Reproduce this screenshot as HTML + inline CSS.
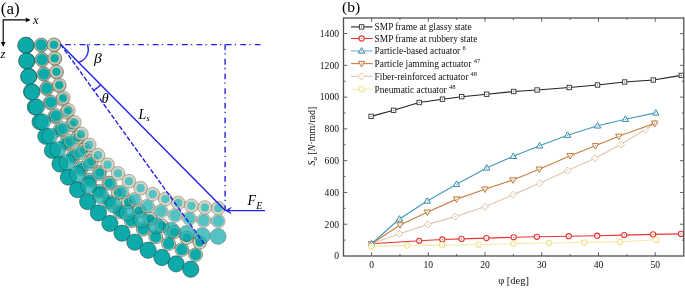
<!DOCTYPE html>
<html><head><meta charset="utf-8"><style>
html,body{margin:0;padding:0;background:#fff;}
body{width:685px;height:288px;overflow:hidden;}
svg{display:block;}
.lg text{font-family:'Liberation Serif',serif;}
</style></head><body>
<svg width="685" height="288" viewBox="0 0 685 288">
<defs><clipPath id="plotclip"><rect x="343.5" y="18.0" width="342.3" height="238"/></clipPath></defs>
<rect width="685" height="288" fill="#fff"/>

<g id="arm-solid"><path d="M41.51,45.18L54.31,44.93 M42.26,59.74L55.02,58.67 M43.96,74.23L56.62,72.33 M46.58,88.58L59.09,85.87 M50.13,102.72L62.44,99.21 M54.59,116.61L66.65,112.31 M59.94,130.18L71.69,125.11 M66.15,143.38L77.55,137.55 M73.21,156.15L84.2,149.6 M81.07,168.43L91.62,161.18 M89.72,180.18L99.78,172.26 M99.1,191.34L108.63,182.79 M109.19,201.88L118.14,192.73 M119.94,211.73L128.28,202.03 M131.31,220.88L139,210.65 M143.24,229.27L150.26,218.56 M155.69,236.86L162,225.73 M168.61,243.64L174.18,232.12 M181.93,249.57L186.75,237.71 M195.62,254.62L199.66,242.47 M41.51,45.18L42.26,59.74L43.96,74.23L46.58,88.58L50.13,102.72L54.59,116.61L59.94,130.18L66.15,143.38L73.21,156.15L81.07,168.43L89.72,180.18L99.1,191.34L109.19,201.88L119.94,211.73L131.31,220.88L143.24,229.27L155.69,236.86L168.61,243.64L181.93,249.57L195.62,254.62 M54.31,44.93L55.02,58.67L56.62,72.33L59.09,85.87L62.44,99.21L66.65,112.31L71.69,125.11L77.55,137.55L84.2,149.6L91.62,161.18L99.78,172.26L108.63,182.79L118.14,192.73L128.28,202.03L139,210.65L150.26,218.56L162,225.73L174.18,232.12L186.75,237.71L199.66,242.47" fill="none" stroke="#d4cfb6" stroke-width="6.2"/>
<circle cx="26.11" cy="45.47" r="8.15" fill="#0cabaa" stroke="#262626" stroke-width="0.45"/>
<circle cx="41.51" cy="45.18" r="6.9" fill="#d4cfb6" stroke="#262626" stroke-width="0.45"/>
<circle cx="41.51" cy="45.18" r="5.8" fill="#0cabaa"/>
<circle cx="54.31" cy="44.93" r="6.7" fill="#d4cfb6" stroke="#262626" stroke-width="0.45"/>
<circle cx="54.31" cy="44.93" r="4.4" fill="#0cabaa"/>
<circle cx="26.92" cy="61.03" r="8.15" fill="#0cabaa" stroke="#262626" stroke-width="0.45"/>
<circle cx="42.26" cy="59.74" r="6.9" fill="#d4cfb6" stroke="#262626" stroke-width="0.45"/>
<circle cx="42.26" cy="59.74" r="5.8" fill="#0cabaa"/>
<circle cx="55.02" cy="58.67" r="6.7" fill="#d4cfb6" stroke="#262626" stroke-width="0.45"/>
<circle cx="55.02" cy="58.67" r="4.4" fill="#0cabaa"/>
<circle cx="28.73" cy="76.51" r="8.15" fill="#0cabaa" stroke="#262626" stroke-width="0.45"/>
<circle cx="43.96" cy="74.23" r="6.9" fill="#d4cfb6" stroke="#262626" stroke-width="0.45"/>
<circle cx="43.96" cy="74.23" r="5.8" fill="#0cabaa"/>
<circle cx="56.62" cy="72.33" r="6.7" fill="#d4cfb6" stroke="#262626" stroke-width="0.45"/>
<circle cx="56.62" cy="72.33" r="4.4" fill="#0cabaa"/>
<circle cx="31.53" cy="91.84" r="8.15" fill="#0cabaa" stroke="#262626" stroke-width="0.45"/>
<circle cx="46.58" cy="88.58" r="6.9" fill="#d4cfb6" stroke="#262626" stroke-width="0.45"/>
<circle cx="46.58" cy="88.58" r="5.8" fill="#0cabaa"/>
<circle cx="59.09" cy="85.87" r="6.7" fill="#d4cfb6" stroke="#262626" stroke-width="0.45"/>
<circle cx="59.09" cy="85.87" r="4.4" fill="#0cabaa"/>
<circle cx="35.32" cy="106.95" r="8.15" fill="#0cabaa" stroke="#262626" stroke-width="0.45"/>
<circle cx="50.13" cy="102.72" r="6.9" fill="#d4cfb6" stroke="#262626" stroke-width="0.45"/>
<circle cx="50.13" cy="102.72" r="5.8" fill="#0cabaa"/>
<circle cx="62.44" cy="99.21" r="6.7" fill="#d4cfb6" stroke="#262626" stroke-width="0.45"/>
<circle cx="62.44" cy="99.21" r="4.4" fill="#0cabaa"/>
<circle cx="40.09" cy="121.79" r="8.15" fill="#0cabaa" stroke="#262626" stroke-width="0.45"/>
<circle cx="54.59" cy="116.61" r="6.9" fill="#d4cfb6" stroke="#262626" stroke-width="0.45"/>
<circle cx="54.59" cy="116.61" r="5.8" fill="#0cabaa"/>
<circle cx="66.65" cy="112.31" r="6.7" fill="#d4cfb6" stroke="#262626" stroke-width="0.45"/>
<circle cx="66.65" cy="112.31" r="4.4" fill="#0cabaa"/>
<circle cx="45.8" cy="136.29" r="8.15" fill="#0cabaa" stroke="#262626" stroke-width="0.45"/>
<circle cx="59.94" cy="130.18" r="6.9" fill="#d4cfb6" stroke="#262626" stroke-width="0.45"/>
<circle cx="59.94" cy="130.18" r="5.8" fill="#0cabaa"/>
<circle cx="71.69" cy="125.11" r="6.7" fill="#d4cfb6" stroke="#262626" stroke-width="0.45"/>
<circle cx="71.69" cy="125.11" r="4.4" fill="#0cabaa"/>
<circle cx="52.44" cy="150.39" r="8.15" fill="#0cabaa" stroke="#262626" stroke-width="0.45"/>
<circle cx="66.15" cy="143.38" r="6.9" fill="#d4cfb6" stroke="#262626" stroke-width="0.45"/>
<circle cx="66.15" cy="143.38" r="5.8" fill="#0cabaa"/>
<circle cx="77.55" cy="137.55" r="6.7" fill="#d4cfb6" stroke="#262626" stroke-width="0.45"/>
<circle cx="77.55" cy="137.55" r="4.4" fill="#0cabaa"/>
<circle cx="59.98" cy="164.03" r="8.15" fill="#0cabaa" stroke="#262626" stroke-width="0.45"/>
<circle cx="73.21" cy="156.15" r="6.9" fill="#d4cfb6" stroke="#262626" stroke-width="0.45"/>
<circle cx="73.21" cy="156.15" r="5.8" fill="#0cabaa"/>
<circle cx="84.2" cy="149.6" r="6.7" fill="#d4cfb6" stroke="#262626" stroke-width="0.45"/>
<circle cx="84.2" cy="149.6" r="4.4" fill="#0cabaa"/>
<circle cx="68.38" cy="177.15" r="8.15" fill="#0cabaa" stroke="#262626" stroke-width="0.45"/>
<circle cx="81.07" cy="168.43" r="6.9" fill="#d4cfb6" stroke="#262626" stroke-width="0.45"/>
<circle cx="81.07" cy="168.43" r="5.8" fill="#0cabaa"/>
<circle cx="91.62" cy="161.18" r="6.7" fill="#d4cfb6" stroke="#262626" stroke-width="0.45"/>
<circle cx="91.62" cy="161.18" r="4.4" fill="#0cabaa"/>
<circle cx="77.61" cy="189.7" r="8.15" fill="#0cabaa" stroke="#262626" stroke-width="0.45"/>
<circle cx="89.72" cy="180.18" r="6.9" fill="#d4cfb6" stroke="#262626" stroke-width="0.45"/>
<circle cx="89.72" cy="180.18" r="5.8" fill="#0cabaa"/>
<circle cx="99.78" cy="172.26" r="6.7" fill="#d4cfb6" stroke="#262626" stroke-width="0.45"/>
<circle cx="99.78" cy="172.26" r="4.4" fill="#0cabaa"/>
<circle cx="87.64" cy="201.63" r="8.15" fill="#0cabaa" stroke="#262626" stroke-width="0.45"/>
<circle cx="99.1" cy="191.34" r="6.9" fill="#d4cfb6" stroke="#262626" stroke-width="0.45"/>
<circle cx="99.1" cy="191.34" r="5.8" fill="#0cabaa"/>
<circle cx="108.63" cy="182.79" r="6.7" fill="#d4cfb6" stroke="#262626" stroke-width="0.45"/>
<circle cx="108.63" cy="182.79" r="4.4" fill="#0cabaa"/>
<circle cx="98.42" cy="212.88" r="8.15" fill="#0cabaa" stroke="#262626" stroke-width="0.45"/>
<circle cx="109.19" cy="201.88" r="6.9" fill="#d4cfb6" stroke="#262626" stroke-width="0.45"/>
<circle cx="109.19" cy="201.88" r="5.8" fill="#0cabaa"/>
<circle cx="118.14" cy="192.73" r="6.7" fill="#d4cfb6" stroke="#262626" stroke-width="0.45"/>
<circle cx="118.14" cy="192.73" r="4.4" fill="#0cabaa"/>
<circle cx="109.91" cy="223.42" r="8.15" fill="#0cabaa" stroke="#262626" stroke-width="0.45"/>
<circle cx="119.94" cy="211.73" r="6.9" fill="#d4cfb6" stroke="#262626" stroke-width="0.45"/>
<circle cx="119.94" cy="211.73" r="5.8" fill="#0cabaa"/>
<circle cx="128.28" cy="202.03" r="6.7" fill="#d4cfb6" stroke="#262626" stroke-width="0.45"/>
<circle cx="128.28" cy="202.03" r="4.4" fill="#0cabaa"/>
<circle cx="122.05" cy="233.18" r="8.15" fill="#0cabaa" stroke="#262626" stroke-width="0.45"/>
<circle cx="131.31" cy="220.88" r="6.9" fill="#d4cfb6" stroke="#262626" stroke-width="0.45"/>
<circle cx="131.31" cy="220.88" r="5.8" fill="#0cabaa"/>
<circle cx="139" cy="210.65" r="6.7" fill="#d4cfb6" stroke="#262626" stroke-width="0.45"/>
<circle cx="139" cy="210.65" r="4.4" fill="#0cabaa"/>
<circle cx="134.8" cy="242.14" r="8.15" fill="#0cabaa" stroke="#262626" stroke-width="0.45"/>
<circle cx="143.24" cy="229.27" r="6.9" fill="#d4cfb6" stroke="#262626" stroke-width="0.45"/>
<circle cx="143.24" cy="229.27" r="5.8" fill="#0cabaa"/>
<circle cx="150.26" cy="218.56" r="6.7" fill="#d4cfb6" stroke="#262626" stroke-width="0.45"/>
<circle cx="150.26" cy="218.56" r="4.4" fill="#0cabaa"/>
<circle cx="148.1" cy="250.26" r="8.15" fill="#0cabaa" stroke="#262626" stroke-width="0.45"/>
<circle cx="155.69" cy="236.86" r="6.9" fill="#d4cfb6" stroke="#262626" stroke-width="0.45"/>
<circle cx="155.69" cy="236.86" r="5.8" fill="#0cabaa"/>
<circle cx="162" cy="225.73" r="6.7" fill="#d4cfb6" stroke="#262626" stroke-width="0.45"/>
<circle cx="162" cy="225.73" r="4.4" fill="#0cabaa"/>
<circle cx="161.9" cy="257.5" r="8.15" fill="#0cabaa" stroke="#262626" stroke-width="0.45"/>
<circle cx="168.61" cy="243.64" r="6.9" fill="#d4cfb6" stroke="#262626" stroke-width="0.45"/>
<circle cx="168.61" cy="243.64" r="5.8" fill="#0cabaa"/>
<circle cx="174.18" cy="232.12" r="6.7" fill="#d4cfb6" stroke="#262626" stroke-width="0.45"/>
<circle cx="174.18" cy="232.12" r="4.4" fill="#0cabaa"/>
<circle cx="176.13" cy="263.83" r="8.15" fill="#0cabaa" stroke="#262626" stroke-width="0.45"/>
<circle cx="181.93" cy="249.57" r="6.9" fill="#d4cfb6" stroke="#262626" stroke-width="0.45"/>
<circle cx="181.93" cy="249.57" r="5.8" fill="#0cabaa"/>
<circle cx="186.75" cy="237.71" r="6.7" fill="#d4cfb6" stroke="#262626" stroke-width="0.45"/>
<circle cx="186.75" cy="237.71" r="4.4" fill="#0cabaa"/>
<circle cx="190.75" cy="269.23" r="8.15" fill="#0cabaa" stroke="#262626" stroke-width="0.45"/>
<circle cx="195.62" cy="254.62" r="6.9" fill="#d4cfb6" stroke="#262626" stroke-width="0.45"/>
<circle cx="195.62" cy="254.62" r="5.8" fill="#0cabaa"/>
<circle cx="199.66" cy="242.47" r="6.7" fill="#d4cfb6" stroke="#262626" stroke-width="0.45"/>
<circle cx="199.66" cy="242.47" r="4.4" fill="#0cabaa"/></g>
<g id="arm-ghost" opacity="0.71"><path d="M41.01,44.9L53.81,44.73 M41.8,59.44L54.54,58.22 M43.78,73.87L56.38,71.61 M46.92,88.08L59.3,84.81 M51.21,102L63.28,97.73 M56.63,115.51L68.3,110.27 M63.12,128.54L74.33,122.37 M70.65,141L81.33,133.94 M79.18,152.81L89.24,144.89 M88.64,163.88L98.02,155.17 M98.97,174.14L107.61,164.7 M110.1,183.52L117.94,173.41 M121.95,191.97L128.95,181.25 M134.46,199.43L140.56,188.18 M147.53,205.84L152.7,194.13 M161.08,211.16L165.28,199.07 M175.02,215.37L178.22,202.97 M189.26,218.42L191.43,205.81 M203.7,220.3L204.84,207.55 M218.24,221.01L218.34,208.21 M41.01,44.9L41.8,59.44L43.78,73.87L46.92,88.08L51.21,102L56.63,115.51L63.12,128.54L70.65,141L79.18,152.81L88.64,163.88L98.97,174.14L110.1,183.52L121.95,191.97L134.46,199.43L147.53,205.84L161.08,211.16L175.02,215.37L189.26,218.42L203.7,220.3L218.24,221.01 M53.81,44.73L54.54,58.22L56.38,71.61L59.3,84.81L63.28,97.73L68.3,110.27L74.33,122.37L81.33,133.94L89.24,144.89L98.02,155.17L107.61,164.7L117.94,173.41L128.95,181.25L140.56,188.18L152.7,194.13L165.28,199.07L178.22,202.97L191.43,205.81L204.84,207.55L218.34,208.21" fill="none" stroke="#c8c1a8" stroke-width="6.5"/>
<circle cx="25.61" cy="45.11" r="8.0" fill="#0cabaa" stroke="#262626" stroke-width="0.45"/>
<circle cx="41.01" cy="44.9" r="6.9" fill="#c8c1a8" stroke="#262626" stroke-width="0.45"/>
<circle cx="41.01" cy="44.9" r="5.8" fill="#0cabaa"/>
<circle cx="53.81" cy="44.73" r="6.9" fill="#c8c1a8" stroke="#262626" stroke-width="0.45"/>
<circle cx="53.81" cy="44.73" r="4.1" fill="#0cabaa"/>
<circle cx="26.47" cy="60.91" r="8.0" fill="#0cabaa" stroke="#262626" stroke-width="0.45"/>
<circle cx="41.8" cy="59.44" r="6.9" fill="#c8c1a8" stroke="#262626" stroke-width="0.45"/>
<circle cx="41.8" cy="59.44" r="5.8" fill="#0cabaa"/>
<circle cx="54.54" cy="58.22" r="6.9" fill="#c8c1a8" stroke="#262626" stroke-width="0.45"/>
<circle cx="54.54" cy="58.22" r="4.1" fill="#0cabaa"/>
<circle cx="28.62" cy="76.58" r="8.0" fill="#0cabaa" stroke="#262626" stroke-width="0.45"/>
<circle cx="43.78" cy="73.87" r="6.9" fill="#c8c1a8" stroke="#262626" stroke-width="0.45"/>
<circle cx="43.78" cy="73.87" r="5.8" fill="#0cabaa"/>
<circle cx="56.38" cy="71.61" r="6.9" fill="#c8c1a8" stroke="#262626" stroke-width="0.45"/>
<circle cx="56.38" cy="71.61" r="4.1" fill="#0cabaa"/>
<circle cx="32.03" cy="92.02" r="8.0" fill="#0cabaa" stroke="#262626" stroke-width="0.45"/>
<circle cx="46.92" cy="88.08" r="6.9" fill="#c8c1a8" stroke="#262626" stroke-width="0.45"/>
<circle cx="46.92" cy="88.08" r="5.8" fill="#0cabaa"/>
<circle cx="59.3" cy="84.81" r="6.9" fill="#c8c1a8" stroke="#262626" stroke-width="0.45"/>
<circle cx="59.3" cy="84.81" r="4.1" fill="#0cabaa"/>
<circle cx="36.7" cy="107.13" r="8.0" fill="#0cabaa" stroke="#262626" stroke-width="0.45"/>
<circle cx="51.21" cy="102" r="6.9" fill="#c8c1a8" stroke="#262626" stroke-width="0.45"/>
<circle cx="51.21" cy="102" r="5.8" fill="#0cabaa"/>
<circle cx="63.28" cy="97.73" r="6.9" fill="#c8c1a8" stroke="#262626" stroke-width="0.45"/>
<circle cx="63.28" cy="97.73" r="4.1" fill="#0cabaa"/>
<circle cx="42.57" cy="121.81" r="8.0" fill="#0cabaa" stroke="#262626" stroke-width="0.45"/>
<circle cx="56.63" cy="115.51" r="6.9" fill="#c8c1a8" stroke="#262626" stroke-width="0.45"/>
<circle cx="56.63" cy="115.51" r="5.8" fill="#0cabaa"/>
<circle cx="68.3" cy="110.27" r="6.9" fill="#c8c1a8" stroke="#262626" stroke-width="0.45"/>
<circle cx="68.3" cy="110.27" r="4.1" fill="#0cabaa"/>
<circle cx="49.63" cy="135.97" r="8.0" fill="#0cabaa" stroke="#262626" stroke-width="0.45"/>
<circle cx="63.12" cy="128.54" r="6.9" fill="#c8c1a8" stroke="#262626" stroke-width="0.45"/>
<circle cx="63.12" cy="128.54" r="5.8" fill="#0cabaa"/>
<circle cx="74.33" cy="122.37" r="6.9" fill="#c8c1a8" stroke="#262626" stroke-width="0.45"/>
<circle cx="74.33" cy="122.37" r="4.1" fill="#0cabaa"/>
<circle cx="57.81" cy="149.5" r="8.0" fill="#0cabaa" stroke="#262626" stroke-width="0.45"/>
<circle cx="70.65" cy="141" r="6.9" fill="#c8c1a8" stroke="#262626" stroke-width="0.45"/>
<circle cx="70.65" cy="141" r="5.8" fill="#0cabaa"/>
<circle cx="81.33" cy="133.94" r="6.9" fill="#c8c1a8" stroke="#262626" stroke-width="0.45"/>
<circle cx="81.33" cy="133.94" r="4.1" fill="#0cabaa"/>
<circle cx="67.07" cy="162.32" r="8.0" fill="#0cabaa" stroke="#262626" stroke-width="0.45"/>
<circle cx="79.18" cy="152.81" r="6.9" fill="#c8c1a8" stroke="#262626" stroke-width="0.45"/>
<circle cx="79.18" cy="152.81" r="5.8" fill="#0cabaa"/>
<circle cx="89.24" cy="144.89" r="6.9" fill="#c8c1a8" stroke="#262626" stroke-width="0.45"/>
<circle cx="89.24" cy="144.89" r="4.1" fill="#0cabaa"/>
<circle cx="77.35" cy="174.35" r="8.0" fill="#0cabaa" stroke="#262626" stroke-width="0.45"/>
<circle cx="88.64" cy="163.88" r="6.9" fill="#c8c1a8" stroke="#262626" stroke-width="0.45"/>
<circle cx="88.64" cy="163.88" r="5.8" fill="#0cabaa"/>
<circle cx="98.02" cy="155.17" r="6.9" fill="#c8c1a8" stroke="#262626" stroke-width="0.45"/>
<circle cx="98.02" cy="155.17" r="4.1" fill="#0cabaa"/>
<circle cx="88.57" cy="185.5" r="8.0" fill="#0cabaa" stroke="#262626" stroke-width="0.45"/>
<circle cx="98.97" cy="174.14" r="6.9" fill="#c8c1a8" stroke="#262626" stroke-width="0.45"/>
<circle cx="98.97" cy="174.14" r="5.8" fill="#0cabaa"/>
<circle cx="107.61" cy="164.7" r="6.9" fill="#c8c1a8" stroke="#262626" stroke-width="0.45"/>
<circle cx="107.61" cy="164.7" r="4.1" fill="#0cabaa"/>
<circle cx="100.66" cy="195.69" r="8.0" fill="#0cabaa" stroke="#262626" stroke-width="0.45"/>
<circle cx="110.1" cy="183.52" r="6.9" fill="#c8c1a8" stroke="#262626" stroke-width="0.45"/>
<circle cx="110.1" cy="183.52" r="5.8" fill="#0cabaa"/>
<circle cx="117.94" cy="173.41" r="6.9" fill="#c8c1a8" stroke="#262626" stroke-width="0.45"/>
<circle cx="117.94" cy="173.41" r="4.1" fill="#0cabaa"/>
<circle cx="113.54" cy="204.87" r="8.0" fill="#0cabaa" stroke="#262626" stroke-width="0.45"/>
<circle cx="121.95" cy="191.97" r="6.9" fill="#c8c1a8" stroke="#262626" stroke-width="0.45"/>
<circle cx="121.95" cy="191.97" r="5.8" fill="#0cabaa"/>
<circle cx="128.95" cy="181.25" r="6.9" fill="#c8c1a8" stroke="#262626" stroke-width="0.45"/>
<circle cx="128.95" cy="181.25" r="4.1" fill="#0cabaa"/>
<circle cx="127.12" cy="212.97" r="8.0" fill="#0cabaa" stroke="#262626" stroke-width="0.45"/>
<circle cx="134.46" cy="199.43" r="6.9" fill="#c8c1a8" stroke="#262626" stroke-width="0.45"/>
<circle cx="134.46" cy="199.43" r="5.8" fill="#0cabaa"/>
<circle cx="140.56" cy="188.18" r="6.9" fill="#c8c1a8" stroke="#262626" stroke-width="0.45"/>
<circle cx="140.56" cy="188.18" r="4.1" fill="#0cabaa"/>
<circle cx="141.32" cy="219.93" r="8.0" fill="#0cabaa" stroke="#262626" stroke-width="0.45"/>
<circle cx="147.53" cy="205.84" r="6.9" fill="#c8c1a8" stroke="#262626" stroke-width="0.45"/>
<circle cx="147.53" cy="205.84" r="5.8" fill="#0cabaa"/>
<circle cx="152.7" cy="194.13" r="6.9" fill="#c8c1a8" stroke="#262626" stroke-width="0.45"/>
<circle cx="152.7" cy="194.13" r="4.1" fill="#0cabaa"/>
<circle cx="156.04" cy="225.72" r="8.0" fill="#0cabaa" stroke="#262626" stroke-width="0.45"/>
<circle cx="161.08" cy="211.16" r="6.9" fill="#c8c1a8" stroke="#262626" stroke-width="0.45"/>
<circle cx="161.08" cy="211.16" r="5.8" fill="#0cabaa"/>
<circle cx="165.28" cy="199.07" r="6.9" fill="#c8c1a8" stroke="#262626" stroke-width="0.45"/>
<circle cx="165.28" cy="199.07" r="4.1" fill="#0cabaa"/>
<circle cx="171.18" cy="230.28" r="8.0" fill="#0cabaa" stroke="#262626" stroke-width="0.45"/>
<circle cx="175.02" cy="215.37" r="6.9" fill="#c8c1a8" stroke="#262626" stroke-width="0.45"/>
<circle cx="175.02" cy="215.37" r="5.8" fill="#0cabaa"/>
<circle cx="178.22" cy="202.97" r="6.9" fill="#c8c1a8" stroke="#262626" stroke-width="0.45"/>
<circle cx="178.22" cy="202.97" r="4.1" fill="#0cabaa"/>
<circle cx="186.65" cy="233.6" r="8.0" fill="#0cabaa" stroke="#262626" stroke-width="0.45"/>
<circle cx="189.26" cy="218.42" r="6.9" fill="#c8c1a8" stroke="#262626" stroke-width="0.45"/>
<circle cx="189.26" cy="218.42" r="5.8" fill="#0cabaa"/>
<circle cx="191.43" cy="205.81" r="6.9" fill="#c8c1a8" stroke="#262626" stroke-width="0.45"/>
<circle cx="191.43" cy="205.81" r="4.1" fill="#0cabaa"/>
<circle cx="202.33" cy="235.64" r="8.0" fill="#0cabaa" stroke="#262626" stroke-width="0.45"/>
<circle cx="203.7" cy="220.3" r="6.9" fill="#c8c1a8" stroke="#262626" stroke-width="0.45"/>
<circle cx="203.7" cy="220.3" r="5.8" fill="#0cabaa"/>
<circle cx="204.84" cy="207.55" r="6.9" fill="#c8c1a8" stroke="#262626" stroke-width="0.45"/>
<circle cx="204.84" cy="207.55" r="4.1" fill="#0cabaa"/>
<circle cx="218.13" cy="236.4" r="8.0" fill="#0cabaa" stroke="#262626" stroke-width="0.45"/>
<circle cx="218.24" cy="221.01" r="6.9" fill="#c8c1a8" stroke="#262626" stroke-width="0.45"/>
<circle cx="218.24" cy="221.01" r="5.8" fill="#0cabaa"/>
<circle cx="218.34" cy="208.21" r="6.9" fill="#c8c1a8" stroke="#262626" stroke-width="0.45"/>
<circle cx="218.34" cy="208.21" r="4.1" fill="#0cabaa"/></g>
<g fill="none" stroke="#2222e8" stroke-width="1.4">
  <line x1="65.1" y1="44.6" x2="260.5" y2="44.6" stroke-dasharray="5.8 3.2 1.3 4.3"/>
  <line x1="225.1" y1="44.2" x2="225.1" y2="209.5" stroke-dasharray="5.8 3.2 1.3 4.35"/>
  <line x1="60.6" y1="44.3" x2="225.3" y2="210.6"/>
  <line x1="60.6" y1="44.3" x2="205.5" y2="245.5" stroke-dasharray="4.8 1.9"/>
  <path d="M87.3,44.6 A13.2,13.2 0 0 1 78.4,62.4"/>
  <path d="M100.71,84.8 A57,57 0 0 1 93.91,90.55"/>
  <line x1="265" y1="210.6" x2="227.5" y2="210.6"/>
</g>
<path d="M225.3,210.6 L231.10000000000002,207.6 L228.3,210.6 L231.10000000000002,213.6 Z" fill="#2222e8" stroke="#2222e8" stroke-width="0.7" stroke-linejoin="round"/>
<g stroke="#000" stroke-width="1" fill="none">
  <polyline points="27,19.9 3.2,19.9 3.2,43" stroke-width="1.15"/>
</g>
<path d="M30.6,19.9 L25.8,17.5 L25.8,22.3 Z" fill="#000"/>
<path d="M3.2,46.8 L0.8,42 L5.6,42 Z" fill="#000"/>
<g font-family="'Liberation Serif', serif" fill="#000">
  <text x="0.8" y="13.6" font-size="17">(a)</text>
  <text x="33" y="23.6" font-size="12.5" font-style="italic">x</text>
  <text x="0.6" y="58" font-size="12.5" font-style="italic">z</text>
  <text x="93.9" y="62.6" font-size="15.5" font-style="italic">β</text>
  <text x="101.8" y="102.6" font-size="14" font-style="italic">θ</text>
  <text x="138.4" y="118.6" font-size="14" font-style="italic">L<tspan font-size="9" dy="2.8">s</tspan></text>
  <text x="247.6" y="205.4" font-size="14" font-style="italic">F<tspan font-size="10" dy="3.8">E</tspan></text>
</g>

<g class="lg" font-family="'Liberation Serif', serif" font-size="9.4" fill="#111">

<g font-family="'Liberation Serif', serif" fill="#000">
  <text x="342" y="11.9" font-size="15.6">(b)</text>
</g>
<g clip-path="url(#plotclip)"><polyline points="371.1,116.4 393.6,110.3 419.2,102.5 442.5,99.2 461.7,96.7 486.7,94.2 513.7,91.5 537.1,90 569.2,87.5 597.5,85 624.6,82 653.3,80 681.3,75.4" fill="none" stroke="#222" stroke-width="1.15"/><rect x="368.9" y="114.2" width="4.4" height="4.4" fill="#fff" stroke="#333333" stroke-width="0.9"/><circle cx="371.1" cy="116.4" r="0.55" fill="#333333"/><rect x="391.4" y="108.1" width="4.4" height="4.4" fill="#fff" stroke="#333333" stroke-width="0.9"/><circle cx="393.6" cy="110.3" r="0.55" fill="#333333"/><rect x="417" y="100.3" width="4.4" height="4.4" fill="#fff" stroke="#333333" stroke-width="0.9"/><circle cx="419.2" cy="102.5" r="0.55" fill="#333333"/><rect x="440.3" y="97" width="4.4" height="4.4" fill="#fff" stroke="#333333" stroke-width="0.9"/><circle cx="442.5" cy="99.2" r="0.55" fill="#333333"/><rect x="459.5" y="94.5" width="4.4" height="4.4" fill="#fff" stroke="#333333" stroke-width="0.9"/><circle cx="461.7" cy="96.7" r="0.55" fill="#333333"/><rect x="484.5" y="92" width="4.4" height="4.4" fill="#fff" stroke="#333333" stroke-width="0.9"/><circle cx="486.7" cy="94.2" r="0.55" fill="#333333"/><rect x="511.5" y="89.3" width="4.4" height="4.4" fill="#fff" stroke="#333333" stroke-width="0.9"/><circle cx="513.7" cy="91.5" r="0.55" fill="#333333"/><rect x="534.9" y="87.8" width="4.4" height="4.4" fill="#fff" stroke="#333333" stroke-width="0.9"/><circle cx="537.1" cy="90" r="0.55" fill="#333333"/><rect x="567" y="85.3" width="4.4" height="4.4" fill="#fff" stroke="#333333" stroke-width="0.9"/><circle cx="569.2" cy="87.5" r="0.55" fill="#333333"/><rect x="595.3" y="82.8" width="4.4" height="4.4" fill="#fff" stroke="#333333" stroke-width="0.9"/><circle cx="597.5" cy="85" r="0.55" fill="#333333"/><rect x="622.4" y="79.8" width="4.4" height="4.4" fill="#fff" stroke="#333333" stroke-width="0.9"/><circle cx="624.6" cy="82" r="0.55" fill="#333333"/><rect x="651.1" y="77.8" width="4.4" height="4.4" fill="#fff" stroke="#333333" stroke-width="0.9"/><circle cx="653.3" cy="80" r="0.55" fill="#333333"/><rect x="679.1" y="73.2" width="4.4" height="4.4" fill="#fff" stroke="#333333" stroke-width="0.9"/><circle cx="681.3" cy="75.4" r="0.55" fill="#333333"/><polyline points="371.6,243.8 419.2,240.8 442.3,239.5 461.6,238.9 486.4,238.1 513.6,237.3 536.9,236.8 568.8,236.2 597.2,235.7 624.2,235.1 653.1,234.4 681,233.9" fill="none" stroke="#e83535" stroke-width="1.15"/><circle cx="371.6" cy="243.8" r="2.6" fill="#fff" stroke="#e83535" stroke-width="1.1"/><circle cx="371.6" cy="243.8" r="0.55" fill="#e83535"/><circle cx="419.2" cy="240.8" r="2.6" fill="#fff" stroke="#e83535" stroke-width="1.1"/><circle cx="419.2" cy="240.8" r="0.55" fill="#e83535"/><circle cx="442.3" cy="239.5" r="2.6" fill="#fff" stroke="#e83535" stroke-width="1.1"/><circle cx="442.3" cy="239.5" r="0.55" fill="#e83535"/><circle cx="461.6" cy="238.9" r="2.6" fill="#fff" stroke="#e83535" stroke-width="1.1"/><circle cx="461.6" cy="238.9" r="0.55" fill="#e83535"/><circle cx="486.4" cy="238.1" r="2.6" fill="#fff" stroke="#e83535" stroke-width="1.1"/><circle cx="486.4" cy="238.1" r="0.55" fill="#e83535"/><circle cx="513.6" cy="237.3" r="2.6" fill="#fff" stroke="#e83535" stroke-width="1.1"/><circle cx="513.6" cy="237.3" r="0.55" fill="#e83535"/><circle cx="536.9" cy="236.8" r="2.6" fill="#fff" stroke="#e83535" stroke-width="1.1"/><circle cx="536.9" cy="236.8" r="0.55" fill="#e83535"/><circle cx="568.8" cy="236.2" r="2.6" fill="#fff" stroke="#e83535" stroke-width="1.1"/><circle cx="568.8" cy="236.2" r="0.55" fill="#e83535"/><circle cx="597.2" cy="235.7" r="2.6" fill="#fff" stroke="#e83535" stroke-width="1.1"/><circle cx="597.2" cy="235.7" r="0.55" fill="#e83535"/><circle cx="624.2" cy="235.1" r="2.6" fill="#fff" stroke="#e83535" stroke-width="1.1"/><circle cx="624.2" cy="235.1" r="0.55" fill="#e83535"/><circle cx="653.1" cy="234.4" r="2.6" fill="#fff" stroke="#e83535" stroke-width="1.1"/><circle cx="653.1" cy="234.4" r="0.55" fill="#e83535"/><circle cx="681" cy="233.9" r="2.6" fill="#fff" stroke="#e83535" stroke-width="1.1"/><circle cx="681" cy="233.9" r="0.55" fill="#e83535"/><polyline points="371.6,243.8 399.4,233.8 428,224.4 455.3,216.6 485,206.7 513.3,194.6 539.6,183.3 567.7,170.6 595,158.3 620.8,144.6 645.4,129.6 655,123.3" fill="none" stroke="#e0c7ab" stroke-width="1.15"/><path d="M371.6,240.3 L375.1,243.8 L371.6,247.3 L368.1,243.8 Z" fill="#fff" stroke="#d8ba98" stroke-width="0.85"/><circle cx="371.6" cy="243.8" r="0.55" fill="#d8ba98"/><path d="M399.4,230.3 L402.9,233.8 L399.4,237.3 L395.9,233.8 Z" fill="#fff" stroke="#d8ba98" stroke-width="0.85"/><circle cx="399.4" cy="233.8" r="0.55" fill="#d8ba98"/><path d="M428,220.9 L431.5,224.4 L428,227.9 L424.5,224.4 Z" fill="#fff" stroke="#d8ba98" stroke-width="0.85"/><circle cx="428" cy="224.4" r="0.55" fill="#d8ba98"/><path d="M455.3,213.1 L458.8,216.6 L455.3,220.1 L451.8,216.6 Z" fill="#fff" stroke="#d8ba98" stroke-width="0.85"/><circle cx="455.3" cy="216.6" r="0.55" fill="#d8ba98"/><path d="M485,203.2 L488.5,206.7 L485,210.2 L481.5,206.7 Z" fill="#fff" stroke="#d8ba98" stroke-width="0.85"/><circle cx="485" cy="206.7" r="0.55" fill="#d8ba98"/><path d="M513.3,191.1 L516.8,194.6 L513.3,198.1 L509.8,194.6 Z" fill="#fff" stroke="#d8ba98" stroke-width="0.85"/><circle cx="513.3" cy="194.6" r="0.55" fill="#d8ba98"/><path d="M539.6,179.8 L543.1,183.3 L539.6,186.8 L536.1,183.3 Z" fill="#fff" stroke="#d8ba98" stroke-width="0.85"/><circle cx="539.6" cy="183.3" r="0.55" fill="#d8ba98"/><path d="M567.7,167.1 L571.2,170.6 L567.7,174.1 L564.2,170.6 Z" fill="#fff" stroke="#d8ba98" stroke-width="0.85"/><circle cx="567.7" cy="170.6" r="0.55" fill="#d8ba98"/><path d="M595,154.8 L598.5,158.3 L595,161.8 L591.5,158.3 Z" fill="#fff" stroke="#d8ba98" stroke-width="0.85"/><circle cx="595" cy="158.3" r="0.55" fill="#d8ba98"/><path d="M620.8,141.1 L624.3,144.6 L620.8,148.1 L617.3,144.6 Z" fill="#fff" stroke="#d8ba98" stroke-width="0.85"/><circle cx="620.8" cy="144.6" r="0.55" fill="#d8ba98"/><path d="M645.4,126.1 L648.9,129.6 L645.4,133.1 L641.9,129.6 Z" fill="#fff" stroke="#d8ba98" stroke-width="0.85"/><circle cx="645.4" cy="129.6" r="0.55" fill="#d8ba98"/><path d="M655,119.8 L658.5,123.3 L655,126.8 L651.5,123.3 Z" fill="#fff" stroke="#d8ba98" stroke-width="0.85"/><circle cx="655" cy="123.3" r="0.55" fill="#d8ba98"/><polyline points="371.6,243.8 400,225 427.2,212.2 456.6,199.1 485,189.2 512.9,180 539.2,169.2 570.2,155.8 595.4,145.8 618.8,136.3 654.6,123.3" fill="none" stroke="#c58043" stroke-width="1.15"/><path d="M371.6,247.1 L374.8,241.6 L368.4,241.6 Z" fill="#fff" stroke="#c07838" stroke-width="1"/><circle cx="371.6" cy="243.8" r="0.55" fill="#c07838"/><path d="M400,228.3 L403.2,222.8 L396.8,222.8 Z" fill="#fff" stroke="#c07838" stroke-width="1"/><circle cx="400" cy="225" r="0.55" fill="#c07838"/><path d="M427.2,215.5 L430.4,210 L424,210 Z" fill="#fff" stroke="#c07838" stroke-width="1"/><circle cx="427.2" cy="212.2" r="0.55" fill="#c07838"/><path d="M456.6,202.4 L459.8,196.9 L453.4,196.9 Z" fill="#fff" stroke="#c07838" stroke-width="1"/><circle cx="456.6" cy="199.1" r="0.55" fill="#c07838"/><path d="M485,192.5 L488.2,187 L481.8,187 Z" fill="#fff" stroke="#c07838" stroke-width="1"/><circle cx="485" cy="189.2" r="0.55" fill="#c07838"/><path d="M512.9,183.3 L516.1,177.8 L509.7,177.8 Z" fill="#fff" stroke="#c07838" stroke-width="1"/><circle cx="512.9" cy="180" r="0.55" fill="#c07838"/><path d="M539.2,172.5 L542.4,167 L536,167 Z" fill="#fff" stroke="#c07838" stroke-width="1"/><circle cx="539.2" cy="169.2" r="0.55" fill="#c07838"/><path d="M570.2,159.1 L573.4,153.6 L567,153.6 Z" fill="#fff" stroke="#c07838" stroke-width="1"/><circle cx="570.2" cy="155.8" r="0.55" fill="#c07838"/><path d="M595.4,149.1 L598.6,143.6 L592.2,143.6 Z" fill="#fff" stroke="#c07838" stroke-width="1"/><circle cx="595.4" cy="145.8" r="0.55" fill="#c07838"/><path d="M618.8,139.6 L622,134.1 L615.6,134.1 Z" fill="#fff" stroke="#c07838" stroke-width="1"/><circle cx="618.8" cy="136.3" r="0.55" fill="#c07838"/><path d="M654.6,126.6 L657.8,121.1 L651.4,121.1 Z" fill="#fff" stroke="#c07838" stroke-width="1"/><circle cx="654.6" cy="123.3" r="0.55" fill="#c07838"/><polyline points="371.6,243.8 399.4,219 427.2,201 456.6,184.2 486.7,167.9 513.3,156.3 539.6,145.8 567.5,135.2 597.5,125.8 625.4,119.2 655.8,112.9" fill="none" stroke="#4599bb" stroke-width="1.15"/><path d="M371.6,240.5 L374.8,246 L368.4,246 Z" fill="#fff" stroke="#3589ab" stroke-width="1"/><circle cx="371.6" cy="243.8" r="0.55" fill="#3589ab"/><path d="M399.4,215.7 L402.6,221.2 L396.2,221.2 Z" fill="#fff" stroke="#3589ab" stroke-width="1"/><circle cx="399.4" cy="219" r="0.55" fill="#3589ab"/><path d="M427.2,197.7 L430.4,203.2 L424,203.2 Z" fill="#fff" stroke="#3589ab" stroke-width="1"/><circle cx="427.2" cy="201" r="0.55" fill="#3589ab"/><path d="M456.6,180.9 L459.8,186.4 L453.4,186.4 Z" fill="#fff" stroke="#3589ab" stroke-width="1"/><circle cx="456.6" cy="184.2" r="0.55" fill="#3589ab"/><path d="M486.7,164.6 L489.9,170.1 L483.5,170.1 Z" fill="#fff" stroke="#3589ab" stroke-width="1"/><circle cx="486.7" cy="167.9" r="0.55" fill="#3589ab"/><path d="M513.3,153 L516.5,158.5 L510.1,158.5 Z" fill="#fff" stroke="#3589ab" stroke-width="1"/><circle cx="513.3" cy="156.3" r="0.55" fill="#3589ab"/><path d="M539.6,142.5 L542.8,148 L536.4,148 Z" fill="#fff" stroke="#3589ab" stroke-width="1"/><circle cx="539.6" cy="145.8" r="0.55" fill="#3589ab"/><path d="M567.5,131.9 L570.7,137.4 L564.3,137.4 Z" fill="#fff" stroke="#3589ab" stroke-width="1"/><circle cx="567.5" cy="135.2" r="0.55" fill="#3589ab"/><path d="M597.5,122.5 L600.7,128 L594.3,128 Z" fill="#fff" stroke="#3589ab" stroke-width="1"/><circle cx="597.5" cy="125.8" r="0.55" fill="#3589ab"/><path d="M625.4,115.9 L628.6,121.4 L622.2,121.4 Z" fill="#fff" stroke="#3589ab" stroke-width="1"/><circle cx="625.4" cy="119.2" r="0.55" fill="#3589ab"/><path d="M655.8,109.6 L659,115.1 L652.6,115.1 Z" fill="#fff" stroke="#3589ab" stroke-width="1"/><circle cx="655.8" cy="112.9" r="0.55" fill="#3589ab"/><polyline points="371.5,246.4 406.9,245.6 442,245.1 478.6,244.7 513.6,243.6 549,243 584.3,242.4 619.9,241.9 656.2,239.7" fill="none" stroke="#f5eba8" stroke-width="1.15"/><circle cx="371.5" cy="246.4" r="2.7" fill="#fff" stroke="#f1e390" stroke-width="1.1"/><circle cx="371.5" cy="246.4" r="0.55" fill="#f1e390"/><circle cx="406.9" cy="245.6" r="2.7" fill="#fff" stroke="#f1e390" stroke-width="1.1"/><circle cx="406.9" cy="245.6" r="0.55" fill="#f1e390"/><circle cx="442" cy="245.1" r="2.7" fill="#fff" stroke="#f1e390" stroke-width="1.1"/><circle cx="442" cy="245.1" r="0.55" fill="#f1e390"/><circle cx="478.6" cy="244.7" r="2.7" fill="#fff" stroke="#f1e390" stroke-width="1.1"/><circle cx="478.6" cy="244.7" r="0.55" fill="#f1e390"/><circle cx="513.6" cy="243.6" r="2.7" fill="#fff" stroke="#f1e390" stroke-width="1.1"/><circle cx="513.6" cy="243.6" r="0.55" fill="#f1e390"/><circle cx="549" cy="243" r="2.7" fill="#fff" stroke="#f1e390" stroke-width="1.1"/><circle cx="549" cy="243" r="0.55" fill="#f1e390"/><circle cx="584.3" cy="242.4" r="2.7" fill="#fff" stroke="#f1e390" stroke-width="1.1"/><circle cx="584.3" cy="242.4" r="0.55" fill="#f1e390"/><circle cx="619.9" cy="241.9" r="2.7" fill="#fff" stroke="#f1e390" stroke-width="1.1"/><circle cx="619.9" cy="241.9" r="0.55" fill="#f1e390"/><circle cx="656.2" cy="239.7" r="2.7" fill="#fff" stroke="#f1e390" stroke-width="1.1"/><circle cx="656.2" cy="239.7" r="0.55" fill="#f1e390"/></g>
<g><line x1="351" y1="26.9" x2="372.6" y2="26.9" stroke="#222" stroke-width="1.1"/><rect x="359.4" y="24.7" width="4.4" height="4.4" fill="#fff" stroke="#333333" stroke-width="0.9"/><circle cx="361.6" cy="26.9" r="0.55" fill="#333333"/><text x="374.6" y="30.3">SMP frame at glassy state</text><line x1="351" y1="38.5" x2="372.6" y2="38.5" stroke="#e83535" stroke-width="1.1"/><circle cx="361.6" cy="38.5" r="2.6" fill="#fff" stroke="#e83535" stroke-width="1.1"/><circle cx="361.6" cy="38.5" r="0.55" fill="#e83535"/><text x="374.6" y="41.9">SMP frame at rubbery state</text><line x1="351" y1="50.9" x2="372.6" y2="50.9" stroke="#6fb3cd" stroke-width="1.1"/><path d="M361.6,47.6 L364.8,53.1 L358.4,53.1 Z" fill="#fff" stroke="#3589ab" stroke-width="1"/><circle cx="361.6" cy="50.9" r="0.55" fill="#3589ab"/><text x="374.6" y="54.3">Particle-based actuator<tspan font-size="6.5" dx="2.2" dy="-4">6</tspan></text><line x1="351" y1="63.6" x2="372.6" y2="63.6" stroke="#c58043" stroke-width="1.1"/><path d="M361.6,66.9 L364.8,61.4 L358.4,61.4 Z" fill="#fff" stroke="#c07838" stroke-width="1"/><circle cx="361.6" cy="63.6" r="0.55" fill="#c07838"/><text x="374.6" y="67">Particle jamming actuator<tspan font-size="6.5" dx="2.2" dy="-4">47</tspan></text><line x1="351" y1="76.4" x2="372.6" y2="76.4" stroke="#e0c7ab" stroke-width="1.1"/><path d="M361.6,72.9 L365.1,76.4 L361.6,79.9 L358.1,76.4 Z" fill="#fff" stroke="#d8ba98" stroke-width="0.85"/><circle cx="361.6" cy="76.4" r="0.55" fill="#d8ba98"/><text x="374.6" y="79.8">Fiber-reinforced actuator<tspan font-size="6.5" dx="2.2" dy="-4">48</tspan></text><line x1="351" y1="89.2" x2="372.6" y2="89.2" stroke="#f5eba8" stroke-width="1.1"/><circle cx="361.6" cy="89.2" r="2.7" fill="#fff" stroke="#f1e390" stroke-width="1.1"/><circle cx="361.6" cy="89.2" r="0.55" fill="#f1e390"/><text x="374.6" y="92.6">Pneumatic actuator<tspan font-size="6.5" dx="2.2" dy="-4">48</tspan></text></g>
<g font-family="'Liberation Serif', serif" font-size="10" fill="#000"></g>
<path d="M371.6,256.0 v-3.8 M371.6,18.0 v3.8 M399.96,256.0 v-2.0 M399.96,18.0 v2.0 M428.32,256.0 v-3.8 M428.32,18.0 v3.8 M456.68,256.0 v-2.0 M456.68,18.0 v2.0 M485.04,256.0 v-3.8 M485.04,18.0 v3.8 M513.4,256.0 v-2.0 M513.4,18.0 v2.0 M541.76,256.0 v-3.8 M541.76,18.0 v3.8 M570.12,256.0 v-2.0 M570.12,18.0 v2.0 M598.48,256.0 v-3.8 M598.48,18.0 v3.8 M626.84,256.0 v-2.0 M626.84,18.0 v2.0 M655.2,256.0 v-3.8 M655.2,18.0 v3.8 M343.5,240.11 h2.0 M683.8,240.11 h-2.0 M343.5,224.23 h3.8 M683.8,224.23 h-3.8 M343.5,208.34 h2.0 M683.8,208.34 h-2.0 M343.5,192.45 h3.8 M683.8,192.45 h-3.8 M343.5,176.56 h2.0 M683.8,176.56 h-2.0 M343.5,160.68 h3.8 M683.8,160.68 h-3.8 M343.5,144.79 h2.0 M683.8,144.79 h-2.0 M343.5,128.9 h3.8 M683.8,128.9 h-3.8 M343.5,113.02 h2.0 M683.8,113.02 h-2.0 M343.5,97.13 h3.8 M683.8,97.13 h-3.8 M343.5,81.24 h2.0 M683.8,81.24 h-2.0 M343.5,65.36 h3.8 M683.8,65.36 h-3.8 M343.5,49.47 h2.0 M683.8,49.47 h-2.0 M343.5,33.58 h3.8 M683.8,33.58 h-3.8" stroke="#505050" stroke-width="0.9" fill="none"/>
<rect x="343.5" y="18.0" width="340.3" height="238" fill="none" stroke="#505050" stroke-width="1.3"/>
<g font-family="'Liberation Serif', serif" font-size="9.6" fill="#111"><text x="371.6" y="268" text-anchor="middle">0</text><text x="428.32" y="268" text-anchor="middle">10</text><text x="485.04" y="268" text-anchor="middle">20</text><text x="541.76" y="268" text-anchor="middle">30</text><text x="598.48" y="268" text-anchor="middle">40</text><text x="655.2" y="268" text-anchor="middle">50</text><text x="339" y="259.3" text-anchor="end">0</text><text x="339" y="227.53" text-anchor="end">200</text><text x="339" y="195.75" text-anchor="end">400</text><text x="339" y="163.98" text-anchor="end">600</text><text x="339" y="132.2" text-anchor="end">800</text><text x="339" y="100.43" text-anchor="end">1000</text><text x="339" y="68.66" text-anchor="end">1200</text><text x="339" y="36.88" text-anchor="end">1400</text></g>
<g font-family="'Liberation Serif', serif" font-size="10" fill="#111">
  <text x="498.2" y="284.3" font-size="10.5">φ [deg]</text>
  <text transform="translate(315.3,165.5) rotate(-90)"><tspan font-style="italic">S</tspan><tspan font-size="7" dy="2" font-style="italic">a</tspan><tspan dy="-2"> [</tspan><tspan font-style="italic">N</tspan>·mm/rad]</text>
</g>

</g>
</svg>
</body></html>
